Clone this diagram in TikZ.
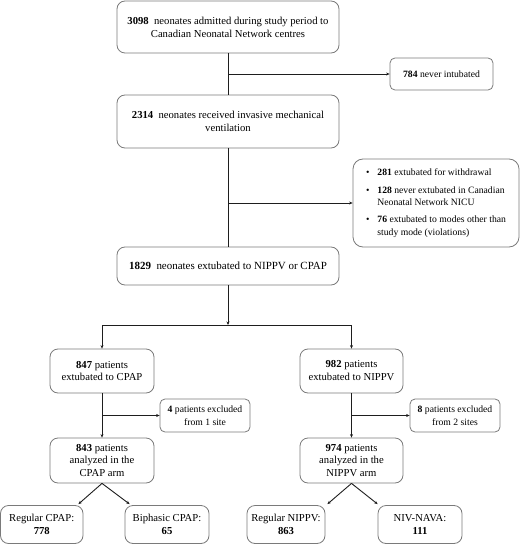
\documentclass[tikz,border=0pt]{standalone}
\usepackage{fontspec}
\setmainfont{Liberation Serif}
\usetikzlibrary{calc,arrows.meta}
\definecolor{boxgray}{HTML}{7A7A7A}
\definecolor{linecol}{HTML}{1E1E1E}
\begin{document}
\begin{tikzpicture}[x=1bp,y=-1bp,
  box/.style={draw=boxgray, rounded corners=8bp, line width=0.8bp, align=center, inner sep=0pt,
    font=\fontsize{10.7}{13}\selectfont},
  sbox/.style={box, rounded corners=5bp},
  conn/.style={draw=linecol, line width=0.9bp},
  arr/.style={conn, -{Stealth[length=3.5bp,width=3bp]}}
]
\useasboundingbox (0,0) rectangle (520,544);

\node[box, minimum width=222bp, minimum height=52bp] (b1) at (228,27)
  {\textbf{3098}\ \ neonates admitted during study period to\\Canadian Neonatal Network centres};
\node[sbox, minimum width=103bp, minimum height=32bp, font=\fontsize{9.7}{12}\selectfont] (n784) at (441.5,74)
  {\textbf{784} never intubated};
\node[box, minimum width=222bp, minimum height=53bp] (b2) at (228,121.5)
  {\textbf{2314}\ \ neonates received invasive mechanical\\ventilation};
\node[box, minimum width=166bp, minimum height=88bp, rounded corners=10bp,
  font=\fontsize{9.7}{12.5}\selectfont] (ex) at (436,203)
  {\begin{tabular}{@{}l@{\hspace{8bp}}l@{}}
   \textbullet & \textbf{281} extubated for withdrawal\\[5bp]
   \textbullet & \textbf{128} never extubated in Canadian\\
   & Neonatal Network NICU\\[5bp]
   \textbullet & \textbf{76} extubated to modes other than\\
   & study mode (violations)
   \end{tabular}};
\node[box, minimum width=222bp, minimum height=38bp, font=\fontsize{11}{13}\selectfont] (b3) at (228,266)
  {\textbf{1829}\ \ neonates extubated to NIPPV or CPAP};

\node[box, minimum width=104bp, minimum height=44bp] (c1) at (102,371)
  {\textbf{847} patients\\extubated to CPAP};
\node[box, minimum width=103bp, minimum height=44bp] (p1) at (351.5,371)
  {\textbf{982} patients\\extubated to NIPPV};
\node[sbox, minimum width=90bp, minimum height=33bp, font=\fontsize{9.7}{13}\selectfont] (c4) at (205,415.5)
  {\textbf{4} patients excluded\\from 1 site};
\node[sbox, minimum width=90bp, minimum height=33bp, font=\fontsize{9.7}{13}\selectfont] (p8) at (455,415.5)
  {\textbf{8} patients excluded\\from 2 sites};
\node[box, minimum width=104bp, minimum height=45bp] (c2) at (102,460.5)
  {\textbf{843} patients\\analyzed in the\\CPAP arm};
\node[box, minimum width=103bp, minimum height=45bp] (p2) at (351.5,460.5)
  {\textbf{974} patients\\analyzed in the\\NIPPV arm};

\node[box, minimum width=82.5bp, minimum height=38bp] (rc) at (41.75,524.5)
  {Regular CPAP:\\\textbf{778}};
\node[box, minimum width=84bp, minimum height=38bp] (bc) at (167,524.5)
  {Biphasic CPAP:\\\textbf{65}};
\node[box, minimum width=78bp, minimum height=38bp] (rn) at (286,524.5)
  {Regular NIPPV:\\\textbf{863}};
\node[box, minimum width=84bp, minimum height=38bp] (nn) at (420,524.5)
  {NIV-NAVA:\\\textbf{111}};

% main trunk
\draw[conn] (b1) -- (b2);
\coordinate (j1) at (b1.south |- n784.west);
\draw[arr] (j1) -- (n784.west);
\draw[conn] (b2) -- (b3);
\coordinate (j2) at (b2.south |- ex.west);
\draw[arr] (j2) -- (ex.west);

\coordinate (split) at (228,325);
\draw[arr] (b3) -- (split);
\draw[arr] (split) -| (c1.north);
\draw[arr] (split) -| (p1.north);

% CPAP arm
\draw[arr] (c1) -- (c2);
\coordinate (j3) at (c1.south |- c4.west);
\draw[arr] (j3) -- (c4.west);
\draw[arr] (c2.south) -- ($(rc.north east)+(-5,-1)$);
\draw[arr] (c2.south) -- ($(bc.north west)+(5,-1)$);

% NIPPV arm
\draw[arr] (p1) -- (p2);
\coordinate (j4) at (p1.south |- p8.west);
\draw[arr] (j4) -- (p8.west);
\draw[arr] (p2.south) -- ($(rn.north east)+(2,-1)$);
\draw[arr] (p2.south) -- ($(nn.north west)+(0,-1)$);
\end{tikzpicture}
\end{document}
